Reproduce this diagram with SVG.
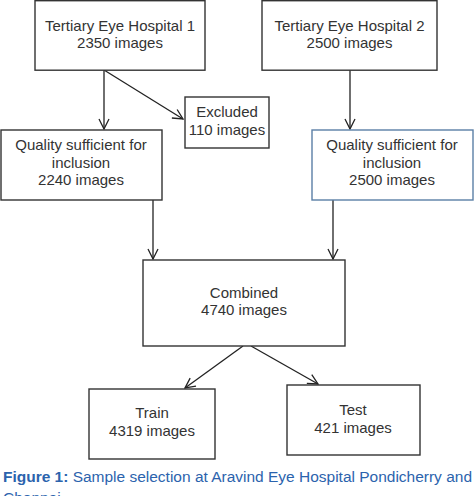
<svg xmlns="http://www.w3.org/2000/svg" width="474" height="496" viewBox="0 0 474 496">
<style>
.box{fill:#fff;stroke:#333;stroke-width:1.4}
.blue{stroke:#5b7fa6}
.t{font-family:"Liberation Sans",Arial,sans-serif;font-size:15px;fill:#333;text-anchor:middle}
.c{stroke:#222;stroke-width:1.3;fill:none}
.cap{font-family:"Liberation Sans",Arial,sans-serif;font-size:15.5px;fill:#2b63ad}
</style>
<defs>
<marker id="ah" viewBox="0 0 12 12" refX="11" refY="6" markerWidth="12" markerHeight="12" markerUnits="userSpaceOnUse" orient="auto">
<path d="M1,1 L11,6 L1,11" fill="none" stroke="#222" stroke-width="1.3"/>
</marker>
</defs>
<rect width="474" height="496" fill="#fff"/>
<g id="connectors">
<line class="c" x1="104" y1="70" x2="104" y2="129" marker-end="url(#ah)"/>
<line class="c" x1="104" y1="70" x2="183" y2="119" marker-end="url(#ah)"/>
<line class="c" x1="350" y1="70" x2="350" y2="129" marker-end="url(#ah)"/>
<line class="c" x1="153" y1="200" x2="153" y2="259" marker-end="url(#ah)"/>
<line class="c" x1="333" y1="200" x2="333" y2="259" marker-end="url(#ah)"/>
<line class="c" x1="243" y1="346" x2="185" y2="388" marker-end="url(#ah)"/>
<line class="c" x1="251" y1="346" x2="318" y2="384" marker-end="url(#ah)"/>
</g>
<g id="hospital1">
<rect class="box" x="35" y="0.7" width="170" height="69.5"/>
<text class="t" x="120" y="31">Tertiary Eye Hospital 1</text>
<text class="t" x="120" y="48">2350 images</text>
</g>
<g id="hospital2">
<rect class="box" x="262" y="0.7" width="175" height="69.5"/>
<text class="t" x="349.5" y="31">Tertiary Eye Hospital 2</text>
<text class="t" x="349.5" y="48">2500 images</text>
</g>
<g id="excluded">
<rect class="box" x="185" y="97" width="84" height="51"/>
<text class="t" x="227" y="117">Excluded</text>
<text class="t" x="227" y="135">110 images</text>
</g>
<g id="quality1">
<rect class="box" x="1" y="130" width="161" height="70"/>
<text class="t" x="81" y="150">Quality sufficient for</text>
<text class="t" x="81" y="168">inclusion</text>
<text class="t" x="81" y="185">2240 images</text>
</g>
<g id="quality2">
<rect class="box blue" x="312" y="130" width="161" height="70"/>
<text class="t" x="392" y="150">Quality sufficient for</text>
<text class="t" x="392" y="168">inclusion</text>
<text class="t" x="392" y="185">2500 images</text>
</g>
<g id="combined">
<rect class="box" x="143" y="260" width="202" height="86"/>
<text class="t" x="244" y="298">Combined</text>
<text class="t" x="244" y="315">4740 images</text>
</g>
<g id="train">
<rect class="box" x="89" y="389" width="126" height="70"/>
<text class="t" x="152" y="418">Train</text>
<text class="t" x="152" y="436">4319 images</text>
</g>
<g id="test">
<rect class="box" x="287" y="385" width="133" height="70"/>
<text class="t" x="353" y="415">Test</text>
<text class="t" x="353" y="433">421 images</text>
</g>
<text class="cap" x="3" y="482" textLength="469" lengthAdjust="spacingAndGlyphs"><tspan font-weight="bold">Figure 1:</tspan> Sample selection at Aravind Eye Hospital Pondicherry and</text>
<text class="cap" x="3" y="503">Chennai</text>
</svg>
